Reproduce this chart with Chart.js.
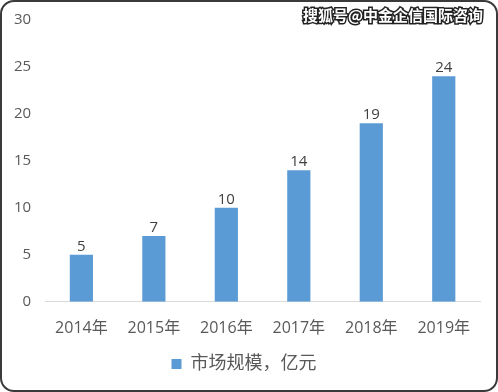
<!DOCTYPE html>
<html lang="zh">
<head>
<meta charset="UTF-8">
<title>市场规模</title>
<script src="https://cdn.jsdelivr.net/npm/chart.js"></script>
<style>
  html, body { margin: 0; padding: 0; background: #fff; }
  #box {
    position: absolute; left: 0; top: 0;
    width: 494px; height: 388px;
    border: 2px solid #3a3a3a; border-radius: 14px;
    overflow: hidden; background: #fff;
  }
  #wrap { position: absolute; left: -2px; top: -2px; width: 498px; height: 392px; }
</style>
</head>
<body>
<div id="box"><div id="wrap"><canvas id="chart" width="498" height="392"></canvas></div></div>
<script>
const years = ['2014年', '2015年', '2016年', '2017年', '2018年', '2019年'];
const marketSize = [5, 7, 10, 14, 19, 24];
const seriesName = '市场规模，亿元';
const watermark = '搜狐号@中金企信国际咨询';

const fontFam = "'Open Sans', 'Noto Sans CJK SC', sans-serif";

// numbers above the bars
const barLabels = {
  id: 'barLabels',
  afterDatasetsDraw(chart) {
    const ctx = chart.ctx;
    const meta = chart.getDatasetMeta(0);
    ctx.save();
    ctx.font = '15px ' + fontFam;
    ctx.fillStyle = '#404040';
    ctx.textAlign = 'center';
    ctx.textBaseline = 'bottom';
    meta.data.forEach((bar, i) => {
      ctx.fillText(marketSize[i], bar.x, bar.y - 1);
    });
    ctx.restore();
  }
};

// sohu watermark top right
const mark = {
  id: 'mark',
  afterDraw(chart) {
    const ctx = chart.ctx;
    ctx.save();
    ctx.font = 'bold 15px "Noto Sans CJK SC", sans-serif';
    ctx.textAlign = 'right';
    ctx.textBaseline = 'middle';
    ctx.lineWidth = 3;
    ctx.strokeStyle = '#222';
    ctx.strokeText(watermark, 483, 15);
    ctx.fillStyle = '#fff';
    ctx.fillText(watermark, 483, 15);
    ctx.restore();
  }
};

new Chart(document.getElementById('chart'), {
  type: 'bar',
  data: {
    labels: years,
    datasets: [{
      label: seriesName,
      data: marketSize,
      backgroundColor: '#5b9bd5',
      barPercentage: 0.64,
      categoryPercentage: 0.5
    }]
  },
  options: {
    responsive: false,
    animation: false,
    layout: { padding: { left: 8, right: 18, top: 20, bottom: 9 } },
    scales: {
      x: {
        grid: { display: false },
        border: { color: '#d9d9d9', width: 1 },
        ticks: { color: '#595959', font: { family: fontFam, size: 16 }, padding: 9, maxRotation: 0 }
      },
      y: {
        min: 0, max: 30,
        grid: { display: false },
        border: { display: false },
        ticks: { stepSize: 5, color: '#595959', font: { family: fontFam, size: 15 }, padding: 6 }
      }
    },
    plugins: {
      legend: {
        position: 'bottom',
        labels: {
          color: '#595959',
          font: { family: fontFam, size: 18 },
          boxWidth: 10, boxHeight: 10,
          padding: 8
        }
      },
      tooltip: { enabled: false }
    }
  },
  plugins: [barLabels, mark]
});
</script>
</body>
</html>
